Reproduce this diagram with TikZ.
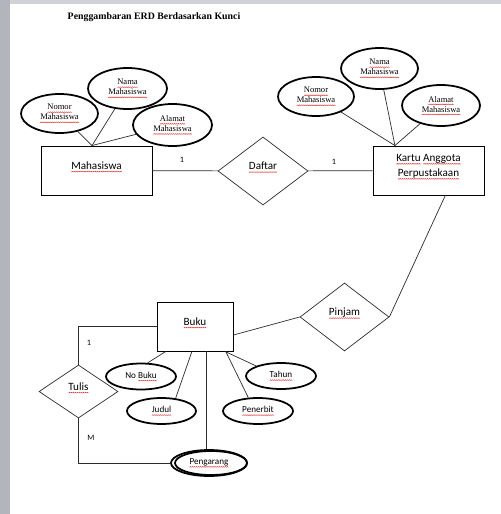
\documentclass[tikz,border=0pt]{standalone}
\usepackage{fontspec}
\setmainfont{Carlito}
\newfontfamily\wordserif{Liberation Serif}
\usetikzlibrary{shapes.geometric,calc}
\definecolor{pagegray}{RGB}{178,182,188}
\definecolor{rulergray}{RGB}{206,210,215}
\definecolor{lineink}{RGB}{45,45,45}
\definecolor{squiggle}{RGB}{225,35,35}
% red spell-check wave under a word
\newsavebox{\wavebox}
\sbox{\wavebox}{\tikz{\useasboundingbox (0,0) rectangle (1.6pt,0.7pt);
  \draw[squiggle,line width=0.35pt] (0,0) -- (0.8pt,0.7pt) -- (1.6pt,0);}}
\newcommand{\typo}[1]{\leavevmode\setbox0\hbox{#1}%
  \rlap{\lower2.3pt\hbox to \wd0{\xleaders\copy\wavebox\hfill}}\box0}
\tikzset{
  entity/.style={draw=black,line width=0.8pt,minimum width=#1,minimum height=14.7mm,
    inner sep=0pt,align=center,text depth=3mm,font=\fontsize{9.5}{12.8}\selectfont},
  entity/.default=33.3mm,
  rel/.style={diamond,draw=lineink,line width=0.6pt,inner sep=0pt,minimum width=27mm,
    minimum height=20.4mm,text depth=3mm,font=\fontsize{9.5}{11}\selectfont},
  attr/.style={ellipse,draw=black,line width=1.5pt,inner sep=0pt,minimum width=23.4mm,
    minimum height=12.1mm,align=center,font=\wordserif\fontsize{7.3}{8.6}\selectfont},
  keyattr/.style={ellipse,draw=black,line width=1.5pt,inner sep=0pt,minimum width=21mm,
    minimum height=7.8mm,font=\fontsize{7.8}{9}\selectfont},
  link/.style={draw=lineink,line width=0.6pt},
  card/.style={font=\fontsize{7}{8}\selectfont,inner sep=0pt},
}

\begin{document}
\begin{tikzpicture}[x=0.3mm,y=-0.3mm]
  \useasboundingbox (0,0) rectangle (501,514);
  \fill[white] (0,0) rectangle (501,514);
  \fill[pagegray] (0,0) rectangle (10,514);
  \fill[rulergray] (10,0) rectangle (501,4);

  \node[font=\wordserif\bfseries\fontsize{8.4}{10}\selectfont] (title) at (154,17)
    {Penggambaran ERD Berdasarkan Kunci};

  % Mahasiswa -- Daftar -- Kartu
  \node[entity] (mhs) at (96.5,170.5) {\typo{Mahasiswa}};
  \node[attr,minimum width=23.1mm,minimum height=11.7mm] (nomorA) at (59.5,113.5) {\typo{Nomor}\\\typo{Mahasiswa}};
  \node[attr,minimum width=23.7mm,minimum height=12.3mm] (namaA) at (127.5,88.5) {\typo{Nama}\\\typo{Mahasiswa}};
  \node[attr,minimum width=23.7mm,minimum height=12.6mm] (alamatA) at (172.5,125) {\typo{Alamat}\\\typo{Mahasiswa}};
  \coordinate (mhsTop) at ($(mhs.north west)!0.46!(mhs.north east)$);
  \foreach \a in {nomorA,namaA,alamatA}
    \draw[link] (\a) -- (mhsTop);

  \node[rel] (daftar) at (263,171) {\typo{Daftar}};
  \node[entity] (kartu) at (428.5,170.5) {\typo{Kartu}\ \typo{Anggota}\\\typo{Perpustakaan}};
  \node[attr,minimum width=22.8mm,minimum height=11.7mm] (nomorB) at (316,96.5) {\typo{Nomor}\\\typo{Mahasiswa}};
  \node[attr,minimum width=23.1mm,minimum height=12.3mm] (namaB) at (379.5,68.5) {\typo{Nama}\\\typo{Mahasiswa}};
  \node[attr,minimum width=23.4mm,minimum height=12.3mm] (alamatB) at (441,105.5) {\typo{Alamat}\\\typo{Mahasiswa}};
  \coordinate (kartuTop) at ($(kartu.north west)!0.2!(kartu.north east)$);
  \foreach \a in {nomorB,namaB,alamatB}
    \draw[link] (\a) -- (kartuTop);

  \draw[link] (mhs) -- (daftar);
  \draw[link] (daftar) -- (kartu);
  \node[card] (oneA) at (182,160) {1};
  \node[card] (oneB) at (334,162) {1};

  % Kartu -- Pinjam -- Buku
  \node[rel,minimum width=26.7mm] (pinjam) at (344.5,317) {\typo{Pinjam}};
  \node[entity=22.8mm] (buku) at (195,326.5) {\typo{Buku}};
  \coordinate (kartuFoot) at ($(kartu.south west)!0.65!(kartu.south east)$);
  \coordinate (bukuSide) at ($(buku.south east)!0.33!(buku.north east)$);
  \draw[link] (kartuFoot) -- (pinjam.east);
  \draw[link] (pinjam.west) -- (bukuSide);

  % Buku attributes
  \node[keyattr] (nobuku) at (141,376.5) {No \typo{Buku}};
  \node[keyattr,minimum width=20.7mm] (judul) at (161.5,411) {\typo{Judul}};
  \node[keyattr] (tahun) at (281,376) {\typo{Tahun}};
  \node[keyattr] (penerbit) at (258,411) {\typo{Penerbit}};
  \node[keyattr,draw=none,minimum width=22.8mm] (pengarang) at (209,463) {\typo{Pengarang}};
  \draw[black,line width=1.5pt] (209,463) ellipse (38 and 13);
  \draw[black,line width=1.5pt] (211,463) ellipse (36 and 12);

  \draw[link] (nobuku.64) -- ($(buku.south west)!0.12!(buku.south east)$);
  \draw[link] (judul.42) -- ($(buku.south west)!0.46!(buku.south east)$);
  \draw[link] (tahun.158) -- ($(buku.south west)!0.89!(buku.south east)$);
  \draw[link] (penerbit.126) -- ($(buku.south west)!0.9!(buku.south east)$);
  \coordinate (bukuFoot) at ($(buku.south west)!0.645!(buku.south east)$);
  \draw[link] (bukuFoot) -- (bukuFoot |- pengarang.north);

  % Tulis
  \node[rel,minimum width=23.7mm,minimum height=15.9mm] (tulis) at (78.5,391.5) {\typo{Tulis}};
  \draw[link] (buku.west) -| (tulis.north);
  \draw[link] (tulis.south) |- (pengarang.west);
  \node[card] (oneC) at (89,343) {1};
  \node[card] (manyC) at (91,438) {M};
\end{tikzpicture}
\end{document}
